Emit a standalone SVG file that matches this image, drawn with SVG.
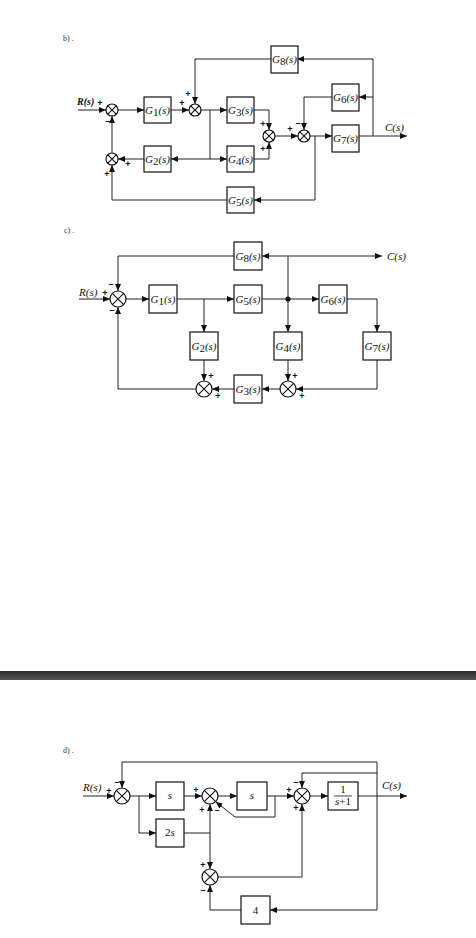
<svg xmlns="http://www.w3.org/2000/svg" width="476" height="938" viewBox="0 0 476 938">
<defs>
<marker id="ar" markerUnits="userSpaceOnUse" markerWidth="7" markerHeight="6" refX="7" refY="3" orient="auto">
<path d="M0,0 L7,3 L0,6 z" fill="#111"/>
</marker>
<linearGradient id="bar" x1="0" y1="0" x2="0" y2="1">
<stop offset="0" stop-color="#2b2d2f"/>
<stop offset="1" stop-color="#54575a"/>
</linearGradient>
</defs>
<style>
.bx{fill:#fff;stroke:#111;stroke-width:1.2}
.sm{fill:#fff;stroke:#111;stroke-width:1.2}
.x{stroke:#111;stroke-width:1.1}
.ln{fill:none;stroke:#222;stroke-width:1}
.ln path{fill:none;stroke:#222;stroke-width:1}
.a{marker-end:url(#ar)}
.t{font-family:"Liberation Serif",serif;font-style:italic;font-size:11px;fill:#111}
.t tspan.n{font-style:normal}
.lb{font-family:"Liberation Serif",serif;font-style:italic;font-weight:bold;font-size:10px;fill:#111}
.sg{font-family:"Liberation Sans",sans-serif;font-weight:bold;font-size:9px;fill:#111;text-anchor:middle}
.hd{font-family:"Liberation Serif",serif;font-size:8px;fill:#333}
.mid{text-anchor:middle}
</style>
<rect width="476" height="938" fill="#fff"/>
<rect x="0" y="671" width="476" height="9" fill="url(#bar)"/>

<!-- ===== b) ===== -->
<text class="hd" x="63" y="41">b) .</text>
<g id="b-conn" class="ln">
<path class="a" d="M78,110 H106"/>
<path class="a" d="M118,110 H144"/>
<path class="a" d="M171,110 H189"/>
<path class="a" d="M271,59 H195 V104"/>
<path class="a" d="M201,110 H227"/>
<path d="M210,110 V159"/>
<path class="a" d="M210,159 H171"/>
<path class="a" d="M210,159 H227"/>
<path class="a" d="M144,159 H118"/>
<path class="a" d="M112,153 V116"/>
<path class="a" d="M254,110 H269 V130"/>
<path class="a" d="M254,159 H269 V142"/>
<path class="a" d="M275,136 H298"/>
<path class="a" d="M310,136 H332"/>
<path class="a" d="M359,136 H407"/>
<path class="a" d="M373,136 V59 H297"/>
<path class="a" d="M373,97 H359"/>
<path class="a" d="M332,97 H304 V130"/>
<path class="a" d="M315,136 V200 H254"/>
<path class="a" d="M227,200 H112 V165"/>
</g>
<g id="b-S1"><circle class="sm" cx="112" cy="110" r="6"/><path class="x" d="M107.8,105.8 L116.2,114.2 M116.2,105.8 L107.8,114.2"/></g>
<g id="b-S2"><circle class="sm" cx="195" cy="110" r="6"/><path class="x" d="M190.8,105.8 L199.2,114.2 M199.2,105.8 L190.8,114.2"/></g>
<g id="b-S3"><circle class="sm" cx="269" cy="136" r="6"/><path class="x" d="M264.8,131.8 L273.2,140.2 M273.2,131.8 L264.8,140.2"/></g>
<g id="b-S4"><circle class="sm" cx="304" cy="136" r="6"/><path class="x" d="M299.8,131.8 L308.2,140.2 M308.2,131.8 L299.8,140.2"/></g>
<g id="b-S5"><circle class="sm" cx="112" cy="159" r="6"/><path class="x" d="M107.8,154.8 L116.2,163.2 M116.2,154.8 L107.8,163.2"/></g>
<g id="b-G1"><rect class="bx" x="144" y="97" width="27" height="26"/><text class="t mid" x="157.5" y="114">G<tspan class="n" dy="1.5">1</tspan><tspan dy="-1.5">(s)</tspan></text></g>
<g id="b-G2"><rect class="bx" x="144" y="146" width="27" height="26"/><text class="t mid" x="157.5" y="163">G<tspan class="n" dy="1.5">2</tspan><tspan dy="-1.5">(s)</tspan></text></g>
<g id="b-G3"><rect class="bx" x="227" y="97" width="27" height="26"/><text class="t mid" x="240.5" y="114">G<tspan class="n" dy="1.5">3</tspan><tspan dy="-1.5">(s)</tspan></text></g>
<g id="b-G4"><rect class="bx" x="227" y="146" width="27" height="26"/><text class="t mid" x="240.5" y="163">G<tspan class="n" dy="1.5">4</tspan><tspan dy="-1.5">(s)</tspan></text></g>
<g id="b-G5"><rect class="bx" x="227" y="187" width="27" height="26"/><text class="t mid" x="240.5" y="204">G<tspan class="n" dy="1.5">5</tspan><tspan dy="-1.5">(s)</tspan></text></g>
<g id="b-G6"><rect class="bx" x="332" y="84" width="27" height="27"/><text class="t mid" x="345.5" y="101">G<tspan class="n" dy="1.5">6</tspan><tspan dy="-1.5">(s)</tspan></text></g>
<g id="b-G7"><rect class="bx" x="332" y="125" width="27" height="27"/><text class="t mid" x="345.5" y="142">G<tspan class="n" dy="1.5">7</tspan><tspan dy="-1.5">(s)</tspan></text></g>
<g id="b-G8"><rect class="bx" x="271" y="46" width="27" height="27"/><text class="t mid" x="284.5" y="63">G<tspan class="n" dy="1.5">8</tspan><tspan dy="-1.5">(s)</tspan></text></g>
<g id="b-labels">
<text class="lb" x="77" y="105">R(s)</text>
<text class="t" x="385" y="131" font-size="10">C(s)</text>
<text class="sg" x="100" y="106">+</text>
<text class="sg" x="108" y="124">–</text>
<text class="sg" x="182" y="106">+</text>
<text class="sg" x="188" y="97">+</text>
<text class="sg" x="263" y="127">+</text>
<text class="sg" x="263" y="152">+</text>
<text class="sg" x="290" y="132">+</text>
<text class="sg" x="298" y="126">–</text>
<text class="sg" x="107" y="177">+</text>
<text class="sg" x="128" y="167">+</text>
</g>

<!-- ===== c) ===== -->
<text class="hd" x="64" y="233">c) .</text>
<g id="c-conn" class="ln">
<path class="a" d="M79,299 H110"/>
<path class="a" d="M126,299 H149"/>
<path class="a" d="M177,299 H234"/>
<path class="a" d="M204,299 V332"/>
<path class="a" d="M204,360 V381"/>
<path class="a" d="M196,389 H118 V307"/>
<path class="a" d="M234,389 H212"/>
<path class="a" d="M280,389 H262"/>
<path class="a" d="M288,360 V381"/>
<path class="a" d="M377,360 V389 H296"/>
<path class="a" d="M347,299 H377 V332"/>
<path class="a" d="M262,299 H319"/>
<path class="a" d="M288,256 V332"/>
<path class="a" d="M288,256 H262"/>
<path class="a" d="M288,256 H382"/>
<path class="a" d="M234,256 H118 V291"/>
</g>
<circle id="c-dot" cx="288" cy="299" r="2.6" fill="#111"/>
<g id="c-S1"><circle class="sm" cx="118" cy="299" r="8"/><path class="x" d="M112.3,293.3 L123.7,304.7 M123.7,293.3 L112.3,304.7"/></g>
<g id="c-S2"><circle class="sm" cx="204" cy="389" r="8"/><path class="x" d="M198.3,383.3 L209.7,394.7 M209.7,383.3 L198.3,394.7"/></g>
<g id="c-S3"><circle class="sm" cx="288" cy="389" r="8"/><path class="x" d="M282.3,383.3 L293.7,394.7 M293.7,383.3 L282.3,394.7"/></g>
<g id="c-G1"><rect class="bx" x="149" y="285" width="28" height="28"/><text class="t mid" x="163" y="303">G<tspan class="n" dy="1.5">1</tspan><tspan dy="-1.5">(s)</tspan></text></g>
<g id="c-G2"><rect class="bx" x="190" y="332" width="28" height="28"/><text class="t mid" x="204" y="350">G<tspan class="n" dy="1.5">2</tspan><tspan dy="-1.5">(s)</tspan></text></g>
<g id="c-G3"><rect class="bx" x="234" y="375" width="28" height="28"/><text class="t mid" x="248" y="393">G<tspan class="n" dy="1.5">3</tspan><tspan dy="-1.5">(s)</tspan></text></g>
<g id="c-G4"><rect class="bx" x="274" y="332" width="28" height="28"/><text class="t mid" x="288" y="350">G<tspan class="n" dy="1.5">4</tspan><tspan dy="-1.5">(s)</tspan></text></g>
<g id="c-G5"><rect class="bx" x="234" y="285" width="28" height="28"/><text class="t mid" x="248" y="303">G<tspan class="n" dy="1.5">5</tspan><tspan dy="-1.5">(s)</tspan></text></g>
<g id="c-G6"><rect class="bx" x="319" y="285" width="28" height="28"/><text class="t mid" x="333" y="303">G<tspan class="n" dy="1.5">6</tspan><tspan dy="-1.5">(s)</tspan></text></g>
<g id="c-G7"><rect class="bx" x="363" y="332" width="28" height="28"/><text class="t mid" x="377" y="350">G<tspan class="n" dy="1.5">7</tspan><tspan dy="-1.5">(s)</tspan></text></g>
<g id="c-G8"><rect class="bx" x="234" y="242" width="28" height="28"/><text class="t mid" x="248" y="260">G<tspan class="n" dy="1.5">8</tspan><tspan dy="-1.5">(s)</tspan></text></g>
<g id="c-labels">
<text class="t" x="79" y="296" font-size="10">R(s)</text>
<text class="t" x="387" y="260" font-size="10">C(s)</text>
<text class="sg" x="105" y="296">+</text>
<text class="sg" x="111" y="287">–</text>
<text class="sg" x="112" y="313">–</text>
<text class="sg" x="211" y="379">+</text>
<text class="sg" x="218" y="399">+</text>
<text class="sg" x="295" y="379">+</text>
<text class="sg" x="302" y="399">+</text>
</g>

<!-- ===== d) ===== -->
<text class="hd" x="63" y="753">d) .</text>
<g id="d-conn" class="ln">
<path class="a" d="M83,796 H114"/>
<path class="a" d="M130,796 H156"/>
<path class="a" d="M139,796 V833 H156"/>
<path class="a" d="M184,796 H202"/>
<path class="a" d="M218,796 H237"/>
<path class="a" d="M267,796 H294"/>
<path class="a" d="M275,796 V817 H235 L215.7,801.7"/>
<path d="M184,833 H210"/>
<path class="a" d="M210,833 V804"/>
<path class="a" d="M210,833 V869"/>
<path class="a" d="M218,877 H302 V804"/>
<path class="a" d="M241,910 H210 V885"/>
<path class="a" d="M310,796 H328"/>
<path class="a" d="M358,796 H407"/>
<path class="a" d="M377,796 V910 H270"/>
<path class="a" d="M377,796 V762 H122 V788"/>
<path class="a" d="M377,773 H302 V788"/>
</g>
<g id="d-S1"><circle class="sm" cx="122" cy="796" r="8"/><path class="x" d="M116.3,790.3 L127.7,801.7 M127.7,790.3 L116.3,801.7"/></g>
<g id="d-S2"><circle class="sm" cx="210" cy="796" r="8"/><path class="x" d="M204.3,790.3 L215.7,801.7 M215.7,790.3 L204.3,801.7"/></g>
<g id="d-S3"><circle class="sm" cx="210" cy="877" r="8"/><path class="x" d="M204.3,871.3 L215.7,882.7 M215.7,871.3 L204.3,882.7"/></g>
<g id="d-S4"><circle class="sm" cx="302" cy="796" r="8"/><path class="x" d="M296.3,790.3 L307.7,801.7 M307.7,790.3 L296.3,801.7"/></g>
<g id="d-s1"><rect class="bx" x="156" y="782" width="28" height="28"/><text class="t mid" x="170" y="799" font-size="10">s</text></g>
<g id="d-2s"><rect class="bx" x="156" y="819" width="28" height="28"/><text class="t mid" x="170" y="836" font-size="10"><tspan class="n">2</tspan>s</text></g>
<g id="d-s2"><rect class="bx" x="237" y="782" width="30" height="28"/><text class="t mid" x="252" y="799" font-size="10">s</text></g>
<g id="d-frac"><rect class="bx" x="328" y="782" width="30" height="28"/><text class="t mid" x="343" y="793" font-size="9"><tspan class="n">1</tspan></text><line x1="334" y1="796" x2="352" y2="796" stroke="#111" stroke-width="0.8"/><text class="t mid" x="343" y="805" font-size="9">s<tspan class="n">+1</tspan></text></g>
<g id="d-4"><rect class="bx" x="241" y="896" width="29" height="28"/><text class="t mid" x="255.5" y="914" font-size="10"><tspan class="n">4</tspan></text></g>
<g id="d-labels">
<text class="t" x="83" y="791" font-size="10">R(s)</text>
<text class="t" x="382" y="789" font-size="10">C(s)</text>
<text class="sg" x="109" y="794" font-size="8">+</text>
<text class="sg" x="117" y="785" font-size="8">–</text>
<text class="sg" x="196" y="793" font-size="8">+</text>
<text class="sg" x="202" y="813" font-size="8">+</text>
<text class="sg" x="217" y="813" font-size="8">–</text>
<text class="sg" x="289" y="793" font-size="8">+</text>
<text class="sg" x="296" y="785" font-size="8">–</text>
<text class="sg" x="296" y="811" font-size="8">+</text>
<text class="sg" x="203" y="868" font-size="8">+</text>
<text class="sg" x="203" y="893" font-size="8">–</text>
</g>
</svg>
